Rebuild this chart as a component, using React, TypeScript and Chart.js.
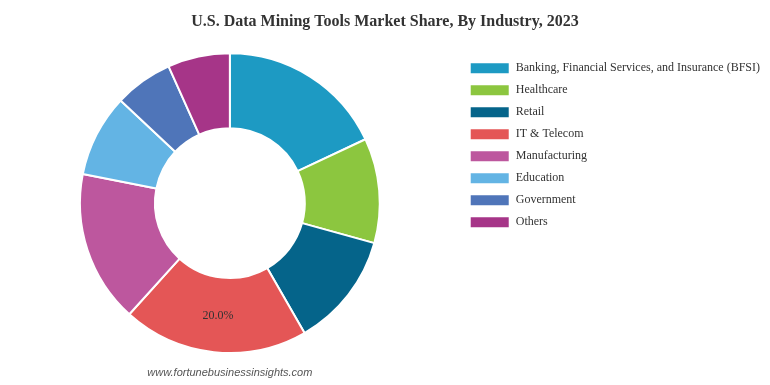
import React, { useEffect, useRef } from "react";
import { Chart, registerables } from "chart.js";

Chart.register(...registerables);

const TITLE = "U.S. Data Mining Tools Market Share, By Industry, 2023";
const SOURCE = "www.fortunebusinessinsights.com";
const categories = [
  "Banking, Financial Services, and Insurance (BFSI)",
  "Healthcare",
  "Retail",
  "IT & Telecom",
  "Manufacturing",
  "Education",
  "Government",
  "Others",
];
const shares = [18.0, 11.3, 12.4, 20.0, 16.4, 8.9, 6.3, 6.7];
const colors = [
  "#1d9ac3",
  "#8cc63f",
  "#05648a",
  "#e45656",
  "#bd579e",
  "#63b4e4",
  "#4f75b9",
  "#a63588",
];
const labeledIndex = [3];

const SERIF = "'Times New Roman', 'Liberation Serif', serif";

export default function App() {
  const ref = useRef<HTMLCanvasElement | null>(null);
  useEffect(() => {
    document.body.style.margin = "0";
    const canvas = ref.current;
    if (!canvas) return;
    const extras = {
      id: "extras",
      afterDatasetsDraw(chart: any) {
        const ctx = chart.ctx;
        const meta = chart.getDatasetMeta(0);
        const total = shares.reduce((a, b) => a + b, 0);
        ctx.save();
        ctx.font = `12px ${SERIF}`;
        ctx.fillStyle = "#333";
        ctx.textAlign = "center";
        ctx.textBaseline = "middle";
        labeledIndex.forEach((i) => {
          const p = meta.data[i].tooltipPosition();
          ctx.fillText(((shares[i] / total) * 100).toFixed(1) + "%", p.x, p.y + 1);
        });
        const ca = chart.chartArea;
        ctx.font = "italic 11px Arial, 'Liberation Sans', sans-serif";
        ctx.fillStyle = "#555";
        ctx.fillText(SOURCE, (ca.left + ca.right) / 2, 373);
        ctx.restore();
      },
    };
    const chart = new Chart(canvas, {
      type: "doughnut",
      data: {
        labels: categories,
        datasets: [
          {
            data: shares,
            backgroundColor: colors,
            borderColor: "#fff",
            borderWidth: 2,
          },
        ],
      },
      options: {
        responsive: false,
        animation: false,
        cutout: "50%",
        layout: { padding: { top: 0, bottom: 31, left: 0, right: 0 } },
        plugins: {
          title: {
            display: true,
            text: TITLE,
            color: "#333",
            font: { family: SERIF, size: 16, weight: "bold" },
            padding: { top: 12, bottom: 21 },
          },
          legend: {
            position: "right",
            align: "start",
            fullSize: false,
            labels: {
              boxWidth: 40,
              boxHeight: 12,
              padding: 10,
              color: "#333",
              font: { family: SERIF, size: 12 },
            },
          },
          tooltip: { enabled: false },
        },
      },
      plugins: [extras],
    });
    return () => chart.destroy();
  }, []);
  return (
    <div style={{ width: 770, height: 385 }}>
      <canvas ref={ref} width={770} height={385} />
    </div>
  );
}
